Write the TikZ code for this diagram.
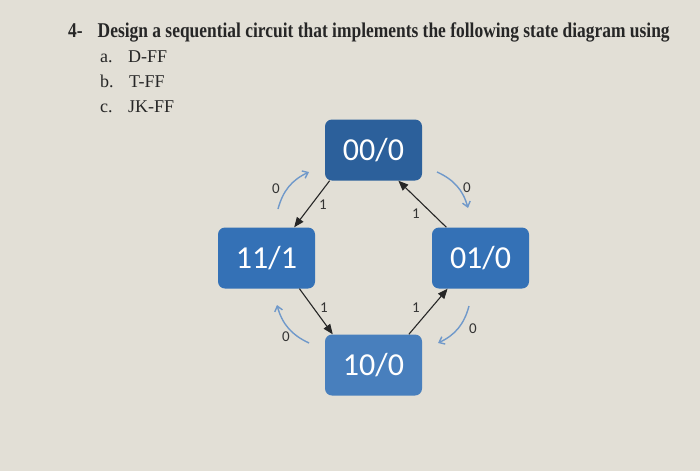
\documentclass[tikz,border=0pt]{standalone}
\usepackage{fontspec}
\setmainfont{Liberation Serif}
\newfontfamily\statefont{Carlito}
\newfontfamily\titlefont[FakeStretch=0.83]{Liberation Serif}
\usetikzlibrary{arrows.meta}
\definecolor{paper}{HTML}{E2DFD6}
\definecolor{statebl}{HTML}{3471B6}
\definecolor{zerobl}{HTML}{7099CA}

\begin{document}
\begin{tikzpicture}[
x=1pt,y=-1pt,
every node/.append style={inner sep=0pt},
state/.style={fill=statebl,rounded corners=7pt,minimum width=97pt,minimum height=61pt,text=white,font={\statefont\fontsize{32}{36}\selectfont}},
item/.style={anchor=base west,text=black!85,font={\fontsize{18}{20}\selectfont}},
one/.style={-{Triangle[length=10pt,width=8pt]},line width=1.1pt,draw=black!85},
zero/.style={-{Straight Barb[length=5pt,width=8pt]},line width=1.4pt,draw=zerobl},
lbl/.style={text=black!80,font={\statefont\fontsize{15}{17}\selectfont}},
]
\useasboundingbox[fill=paper] (0,0) rectangle (700,471);

% question
\node[item,font={\titlefont\bfseries\fontsize{21}{24}\selectfont}] (title) at (68,37) {4-\hskip 15pt Design a sequential circuit that implements the following state diagram using};
\node[item] (ia) at (100,62) {a.};
\node[item] (ta) at (128,62) {D-FF};
\node[item] (ib) at (100,87) {b.};
\node[item] (tb) at (129,87) {T-FF};
\node[item] (ic) at (100,112) {c.};
\node[item] (tc) at (128,112) {JK-FF};

% states
\node[state,fill=statebl!85!black] (s00) at (373.5,150) {00/0};
\node[state] (s11) at (266.5,258) {11/1};
\node[state] (s01) at (480.5,258) {01/0};
\node[state,fill=statebl!90!white] (s10) at (373.5,365) {10/0};

% input 1
\draw[one] (s00.215) -- (s11.48);
\draw[one] (s11.317) -- (s10.143);
\draw[one] (s10.41) -- (s01.223);
\draw[one] (s01.138) -- (s00.309);
\node[lbl] (l1a) at (323,205) {1};
\node[lbl] (l1b) at (324,308) {1};
\node[lbl] (l1c) at (416,308) {1};
\node[lbl] (l1d) at (416,214) {1};

% input 0
\coordinate (z1a) at (278,209);
\coordinate (z1b) at (309,172);
\coordinate (z2a) at (437,172);
\coordinate (z2b) at (468,208);
\coordinate (z3a) at (469,306);
\coordinate (z3b) at (438,343);
\coordinate (z4a) at (309,343);
\coordinate (z4b) at (277,305);
\draw[zero] (z1a) to[bend left=25] (z1b);
\draw[zero] (z2a) to[bend left=25] (z2b);
\draw[zero] (z3a) to[bend left=25] (z3b);
\draw[zero] (z4a) to[bend left=25] (z4b);
\node[lbl] (l0a) at (276,189) {0};
\node[lbl] (l0b) at (467,188) {0};
\node[lbl] (l0c) at (473,329) {0};
\node[lbl] (l0d) at (286,337) {0};

\end{tikzpicture}
\end{document}
